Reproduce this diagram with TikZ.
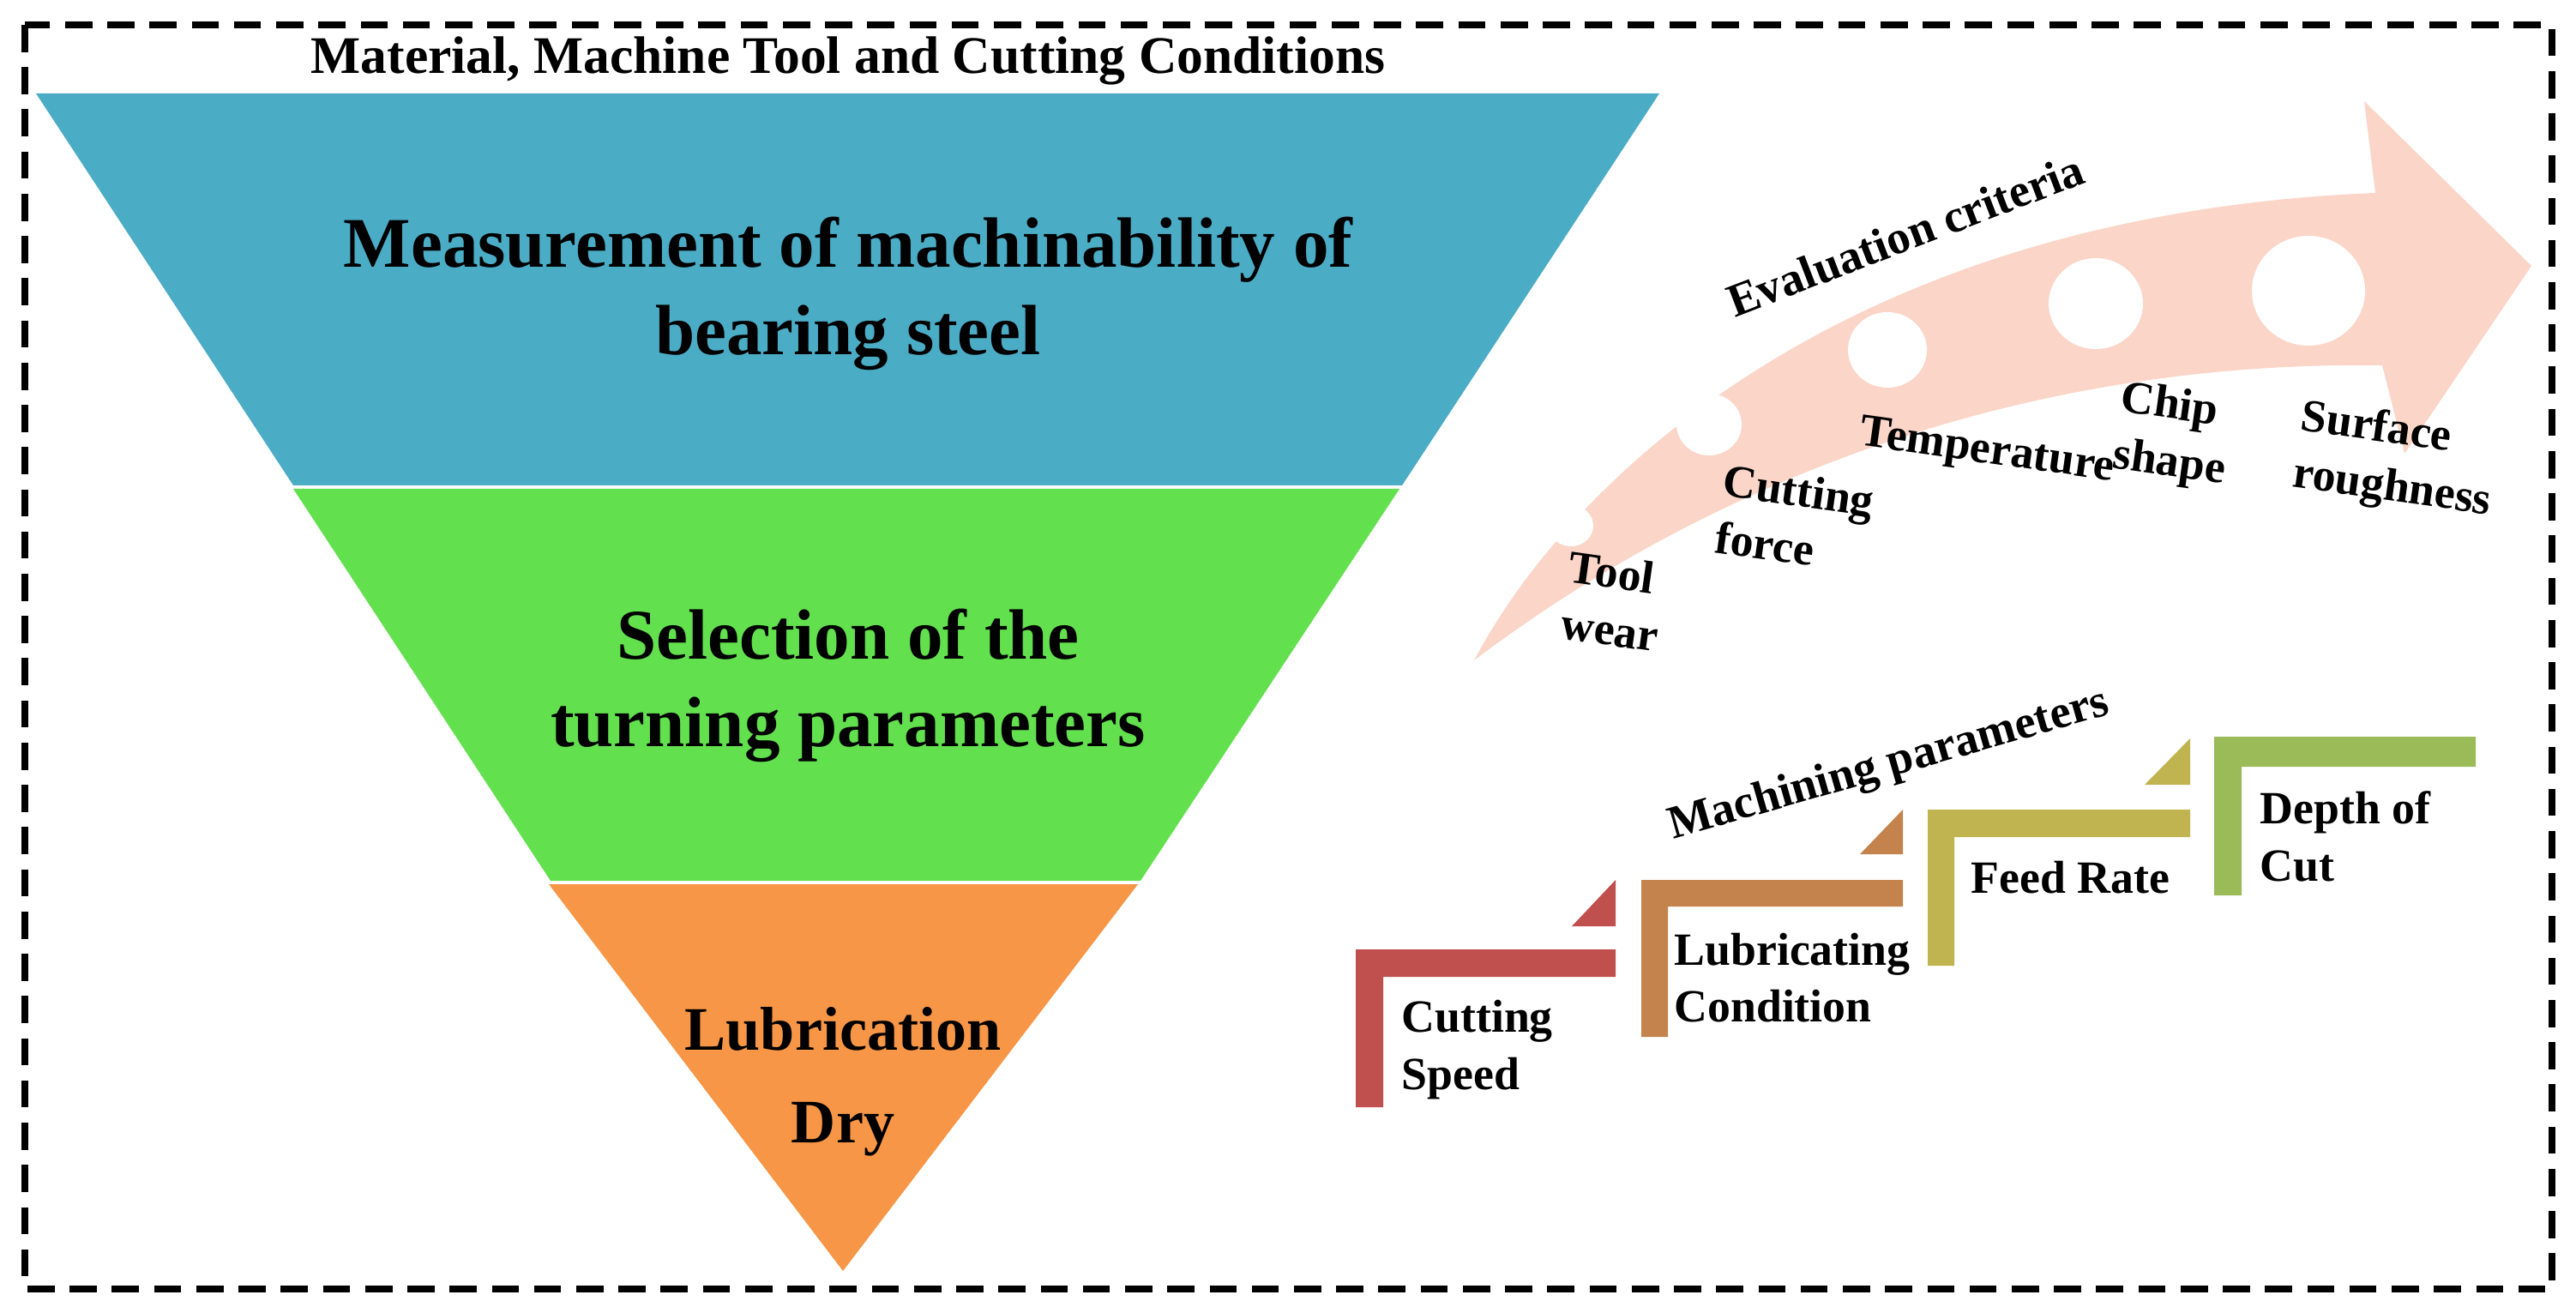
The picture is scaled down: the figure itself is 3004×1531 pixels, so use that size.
\documentclass[tikz,border=0pt]{standalone}
\usepackage{fontspec}
\setmainfont{Liberation Serif}
\begin{document}
\begin{tikzpicture}[x=0.01cm,y=-0.01cm,
  big/.style={font=\fontsize{23.6}{27}\selectfont\bfseries,align=center},
  lab/.style={font=\fontsize{15.3}{19}\selectfont\bfseries,align=left}]
\useasboundingbox (0,0) rectangle (3004,1531);
\definecolor{cblue}{HTML}{4BACC6}
\definecolor{cgreen}{HTML}{62E04E}
\definecolor{corange}{HTML}{F79646}
\definecolor{cpink}{HTML}{FBD5C8}
\definecolor{cred}{HTML}{C0504D}
\definecolor{cbrown}{HTML}{C4834D}
\definecolor{colive}{HTML}{BFB44F}
\definecolor{clgreen}{HTML}{9BBB59}
\draw[line width=2.2pt,dash pattern=on 9pt off 5pt] (29,29) rectangle (2976,1503);
% triangle bands
\fill[cblue] (42,109) -- (1935,109) -- (1635,566) -- (342,566) -- cycle;
\fill[cgreen] (342,570) -- (1632,570) -- (1330,1027) -- (642,1027) -- cycle;
\fill[corange] (640,1031) -- (1327,1031) -- (983,1482) -- cycle;
\node[font=\fontsize{17.5}{19}\selectfont\bfseries] (title) at (989,71) {Material, Machine Tool and Cutting Conditions};
\node[big] (b1) at (989,342) {Measurement of machinability of\\[2pt]bearing steel};
\node[big] (b2) at (989,799) {Selection of the\\[2pt]turning parameters};
\node[font=\fontsize{20.5}{24}\selectfont\bfseries] (b3a) at (983,1200) {Lubrication};
\node[font=\fontsize{20.5}{24}\selectfont\bfseries] (b3b) at (983,1317) {Dry};
% curved arrow
\fill[cpink] (1719,770) .. controls (1830,560) and (2150,250) .. (2770,225)
  -- (2757,118) -- (2952,310) -- (2804,529) -- (2778,426)
  .. controls (2330,420) and (1970,580) .. (1719,770) -- cycle;
\fill[white] (1832,613) ellipse (26 and 24);
\fill[white] (1993,495) ellipse (38 and 36);
\fill[white] (2201,408) ellipse (46 and 44);
\fill[white] (2444,354) ellipse (55 and 53);
\fill[white] (2692,339) ellipse (66 and 64);
\node[font=\fontsize{15.5}{19}\selectfont\bfseries,rotate=21] (ev) at (2222,274) {Evaluation criteria};
\node[lab,rotate=-8] (tw) at (1882,701) {Tool\\wear};
\node[lab,rotate=-8] (cf) at (2093,605) {Cutting\\force};
\node[lab,rotate=-8] (tp) at (2317,528) {Temperature};
\node[lab,rotate=-8] (cs) at (2534,509) {Chip\\shape};
\node[lab,rotate=-8] (sr) at (2794,538) {Surface\\roughness};
% steps
\fill[cred] (1581,1107) -- (1884,1107) -- (1884,1139) -- (1613,1139) -- (1613,1291) -- (1581,1291) -- cycle;
\fill[cred] (1833,1080) -- (1884,1026) -- (1884,1080) -- cycle;
\fill[cbrown] (1914,1026) -- (2219,1026) -- (2219,1057) -- (1945,1057) -- (1945,1209) -- (1914,1209) -- cycle;
\fill[cbrown] (2169,996) -- (2219,944) -- (2219,996) -- cycle;
\fill[colive] (2248,944) -- (2554,944) -- (2554,976) -- (2279,976) -- (2279,1126) -- (2248,1126) -- cycle;
\fill[colive] (2501,915) -- (2554,861) -- (2554,915) -- cycle;
\fill[clgreen] (2582,859) -- (2887,859) -- (2887,894) -- (2614,894) -- (2614,1044) -- (2582,1044) -- cycle;
\node[font=\fontsize{15.5}{19}\selectfont\bfseries,rotate=16] (mp) at (2203,893) {Machining parameters};
\node[lab,anchor=west] (s1) at (1622,1224) {Cutting\\Speed};
\node[lab,anchor=west] (s2) at (1940,1140) {Lubricating\\Condition};
\node[lab,anchor=west] (s3) at (2286,1023) {Feed Rate};
\node[lab,anchor=west] (s4) at (2623,975) {Depth of\\Cut};
\end{tikzpicture}
\end{document}
